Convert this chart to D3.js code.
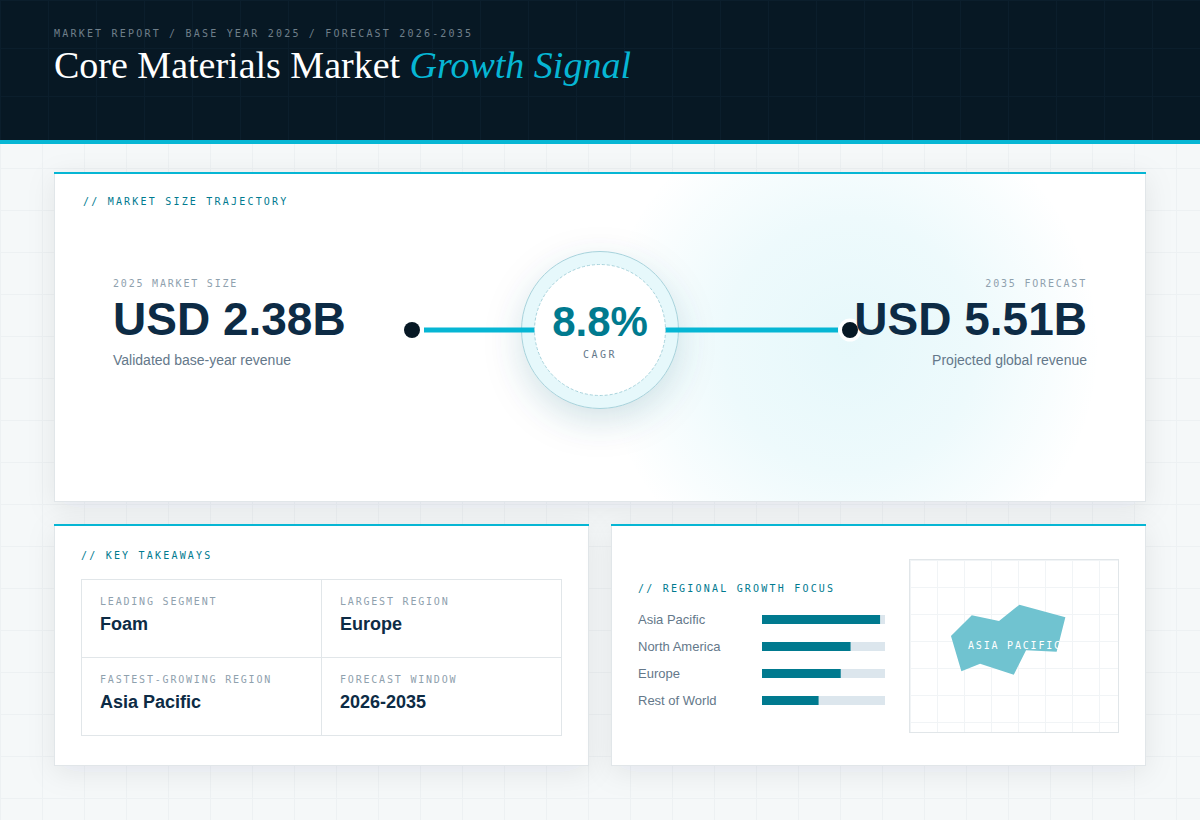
<!DOCTYPE html>
<html>
<head>
<meta charset="utf-8">
<title>Core Materials Market Growth Signal</title>
<script src="https://cdn.jsdelivr.net/npm/d3@7"></script>
<style>
  html, body { margin: 0; padding: 0; background: #f5f8f9; }
  svg { display: block; }
  .mono { font-family: "DejaVu Sans Mono", monospace; }
  .sans { font-family: "Liberation Sans", Arial, sans-serif; }
  .serif { font-family: "Liberation Serif", Georgia, serif; }
</style>
</head>
<body>
<svg id="chart" width="1200" height="820"></svg>
<script>
// report copy
var eyebrow = 'MARKET REPORT / BASE YEAR 2025 / FORECAST 2026-2035';
var titleMain = 'Core Materials Market ';
var titleAccent = 'Growth Signal';

// trajectory
var baseLabel = '2025 MARKET SIZE', baseValue = 'USD 2.38B', baseNote = 'Validated base-year revenue';
var foreLabel = '2035 FORECAST', foreValue = 'USD 5.51B', foreNote = 'Projected global revenue';
var cagrValue = '8.8%', cagrLabel = 'CAGR';

// takeaways
var takeawayLabels = ['LEADING SEGMENT', 'LARGEST REGION', 'FASTEST-GROWING REGION', 'FORECAST WINDOW'];
var takeawayValues = ['Foam', 'Europe', 'Asia Pacific', '2026-2035'];

// regional bars
var regions = ['Asia Pacific', 'North America', 'Europe', 'Rest of World'];
var regionShare = [96, 72, 64, 46];

// map shape, percent of the map box
var shapeX = [29.7, 42.8, 52.6, 74.7, 70.5, 55.8, 49.9, 33.7, 24.7, 19.7];
var shapeY = [32.1, 35.4, 26, 33.3, 53.3, 52.5, 66.7, 60.3, 64.7, 44.2];

var INK = '#0d2b45', TEAL = '#007a8f', CYAN = '#06b6d4', DARK = '#071824';

var svg = d3.select('#chart');
var defs = svg.append('defs');

function gridPattern(id, size, color, ox, oy) {
  var p = defs.append('pattern').attr('id', id).attr('patternUnits', 'userSpaceOnUse')
    .attr('width', size).attr('height', size)
    .attr('patternTransform', 'translate(' + (ox || 0) + ',' + (oy || 0) + ')');
  p.append('rect').attr('width', size).attr('height', 1).attr('fill', color);
  p.append('rect').attr('width', 1).attr('height', size).attr('fill', color);
}
gridPattern('pageGrid', 42, '#edf1f3');
gridPattern('headGrid', 48, '#0b1e2c');
gridPattern('mapGrid', 27, '#f1f4f6', 910, 560);

var shadow = defs.append('filter').attr('id', 'panelShadow')
  .attr('x', '-10%').attr('y', '-15%').attr('width', '120%').attr('height', '135%');
shadow.append('feDropShadow').attr('dx', 0).attr('dy', 6).attr('stdDeviation', 14)
  .attr('flood-color', '#0a283c').attr('flood-opacity', 0.08);

var ringShadow = defs.append('filter').attr('id', 'ringShadow')
  .attr('x', '-50%').attr('y', '-50%').attr('width', '200%').attr('height', '200%');
ringShadow.append('feDropShadow').attr('dx', 0).attr('dy', 12).attr('stdDeviation', 18)
  .attr('flood-color', '#005f73').attr('flood-opacity', 0.18);

var glow = defs.append('radialGradient').attr('id', 'glow');
glow.append('stop').attr('offset', '0%').attr('stop-color', '#06b6d4').attr('stop-opacity', 0.1);
glow.append('stop').attr('offset', '50%').attr('stop-color', '#06b6d4').attr('stop-opacity', 0.07);
glow.append('stop').attr('offset', '80%').attr('stop-color', '#06b6d4').attr('stop-opacity', 0.03);
glow.append('stop').attr('offset', '100%').attr('stop-color', '#06b6d4').attr('stop-opacity', 0);

defs.append('clipPath').attr('id', 'mainClip').append('rect')
  .attr('x', 55).attr('y', 174).attr('width', 1090).attr('height', 327);

function label(parent, x, y, str, size, spacing, color, anchor) {
  return parent.append('text').attr('class', 'mono').attr('x', x).attr('y', y)
    .attr('font-size', size).attr('letter-spacing', spacing).attr('fill', color)
    .attr('text-anchor', anchor || 'start').text(str);
}

function sans(parent, x, y, str, size, weight, color, anchor) {
  return parent.append('text').attr('class', 'sans').attr('x', x).attr('y', y)
    .attr('font-size', size).attr('font-weight', weight).attr('fill', color)
    .attr('text-anchor', anchor || 'start').text(str);
}

function panel(x, y, w, h) {
  svg.append('rect').attr('x', x + 0.5).attr('y', y + 0.5).attr('width', w - 1).attr('height', h - 1)
    .attr('fill', '#fff').attr('stroke', '#e1e6e9').attr('filter', 'url(#panelShadow)');
  svg.append('rect').attr('x', x).attr('y', y).attr('width', w).attr('height', 2).attr('fill', CYAN);
}

// page and header
svg.append('rect').attr('width', 1200).attr('height', 820).attr('fill', '#f5f8f9');
svg.append('rect').attr('width', 1200).attr('height', 820).attr('fill', 'url(#pageGrid)');
svg.append('rect').attr('width', 1200).attr('height', 140).attr('fill', DARK);
svg.append('rect').attr('width', 1200).attr('height', 140).attr('fill', 'url(#headGrid)');
svg.append('rect').attr('y', 140).attr('width', 1200).attr('height', 4).attr('fill', CYAN);

label(svg, 54, 37, eyebrow, 10, 2.2, '#6f7f8a');
var title = svg.append('text').attr('class', 'serif').attr('x', 54).attr('y', 78)
  .attr('font-size', 38).attr('fill', '#fff');
title.append('tspan').style('white-space', 'pre').text(titleMain);
title.append('tspan').attr('font-style', 'italic').attr('fill', CYAN).text(titleAccent);

// trajectory panel
panel(54, 172, 1092, 330);
svg.append('g').attr('clip-path', 'url(#mainClip)').append('circle')
  .attr('cx', 850).attr('cy', 346).attr('r', 250).attr('fill', 'url(#glow)');
label(svg, 83, 205, '// MARKET SIZE TRAJECTORY', 10, 2.2, TEAL);

label(svg, 113, 287, baseLabel, 10, 1.8, '#8fa1ae');
sans(svg, 113, 335, baseValue, 46, 700, INK);
sans(svg, 113, 365, baseNote, 14, 400, '#64788a');

// ring first, then the line, so it stays visible up to the inner circle
svg.append('circle').attr('cx', 600).attr('cy', 330).attr('r', 78.5)
  .attr('fill', '#fff').attr('filter', 'url(#ringShadow)');
svg.append('circle').attr('cx', 600).attr('cy', 330).attr('r', 78.5)
  .attr('fill', '#06b6d4').attr('fill-opacity', 0.1).attr('stroke', '#a8d3dc');
svg.append('rect').attr('x', 424).attr('y', 327.5).attr('width', 414).attr('height', 5).attr('fill', CYAN);
svg.append('circle').attr('cx', 412).attr('cy', 330).attr('r', 8).attr('fill', DARK);
svg.append('circle').attr('cx', 850).attr('cy', 330).attr('r', 9.75)
  .attr('fill', DARK).attr('stroke', '#fff').attr('stroke-width', 3.5);

svg.append('circle').attr('cx', 600).attr('cy', 330).attr('r', 65.5)
  .attr('fill', '#fff').attr('stroke', '#a8d3dc').attr('stroke-dasharray', '3 2');
sans(svg, 600, 336, cagrValue, 42, 700, TEAL, 'middle');
label(svg, 600, 358, cagrLabel, 10, 2.5, '#64788a', 'middle');

label(svg, 1087, 287, foreLabel, 10, 1.8, '#8fa1ae', 'end');
sans(svg, 1087, 335, foreValue, 46, 700, INK, 'end');
sans(svg, 1087, 365, foreNote, 14, 400, '#64788a', 'end');

// takeaways panel
panel(54, 524, 535, 242);
label(svg, 81, 559, '// KEY TAKEAWAYS', 10, 2.2, TEAL);

var cellX = d3.scaleBand().domain([0, 1]).range([81, 561]);
var cellY = d3.scaleBand().domain([0, 1]).range([579, 735]);
var cells = svg.append('g').selectAll('g').data(takeawayLabels).join('g')
  .attr('transform', function(d, i) { return 'translate(' + cellX(i % 2) + ',' + cellY(Math.floor(i / 2)) + ')'; });
cells.append('rect').attr('x', 0.5).attr('y', 0.5)
  .attr('width', cellX.bandwidth()).attr('height', cellY.bandwidth())
  .attr('fill', '#fff').attr('stroke', '#e1e6e9');
cells.each(function(d, i) {
  var cell = d3.select(this);
  label(cell, 19, 26, d, 10, 1.8, '#8fa1ae');
  sans(cell, 19, 51, takeawayValues[i], 18, 700, INK);
});

// regional panel
panel(611, 524, 535, 242);
label(svg, 638, 592, '// REGIONAL GROWTH FOCUS', 10, 2.2, TEAL);

var barX = d3.scaleLinear().domain([0, 100]).range([762, 885]);
var barY = d3.scaleBand().domain(regions).range([601.5, 718.5]).paddingInner(2 / 3).paddingOuter(0.5);
var rows = svg.append('g').selectAll('g').data(regions).join('g');
rows.append('text').attr('class', 'sans').attr('x', 638)
  .attr('y', function(d) { return barY(d) + barY.bandwidth() / 2 + 4.5; })
  .attr('font-size', 13).attr('fill', '#64788a').text(function(d) { return d; });
rows.append('rect').attr('x', barX(0))
  .attr('y', function(d) { return barY(d); })
  .attr('width', barX(100) - barX(0)).attr('height', barY.bandwidth()).attr('fill', '#dce6ed');
rows.append('rect').attr('x', barX(0))
  .attr('y', function(d) { return barY(d); })
  .attr('width', function(d, i) { return barX(regionShare[i]) - barX(0); })
  .attr('height', barY.bandwidth()).attr('fill', TEAL);

// map
var mapX = d3.scaleLinear().domain([0, 100]).range([910, 1118]);
var mapY = d3.scaleLinear().domain([0, 100]).range([560, 732]);
svg.append('rect').attr('x', 910).attr('y', 560).attr('width', 208).attr('height', 172).attr('fill', '#fff');
svg.append('rect').attr('x', 910).attr('y', 560).attr('width', 208).attr('height', 172)
  .attr('fill', 'url(#mapGrid)');
svg.append('rect').attr('x', 909.5).attr('y', 559.5).attr('width', 209).attr('height', 173)
  .attr('fill', 'none').attr('stroke', '#e1e6e9');
svg.append('path')
  .attr('d', d3.line().x(function(d) { return mapX(d); }).y(function(d, i) { return mapY(shapeY[i]); })(shapeX) + 'Z')
  .attr('fill', '#70c3d0');
label(svg, 968, 649, 'ASIA PACIFIC', 10, 1.8, '#fff');
</script>
</body>
</html>
